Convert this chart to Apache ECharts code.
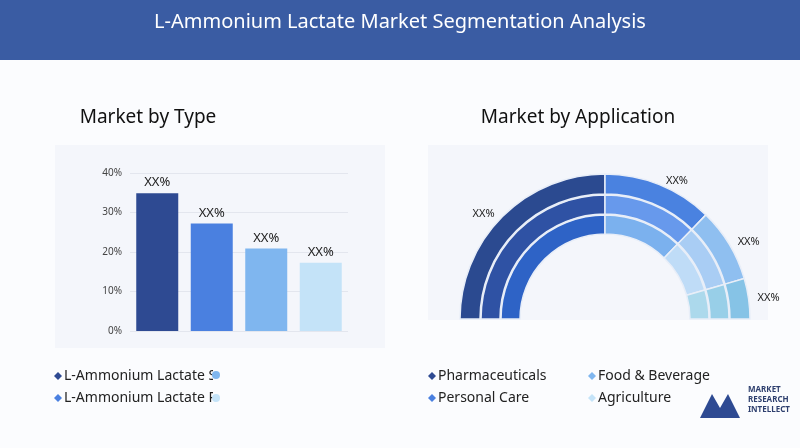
<!DOCTYPE html>
<html><head><meta charset="utf-8">
<script src="https://cdn.jsdelivr.net/npm/echarts@6/dist/echarts.min.js"></script>
<style>html,body{margin:0;padding:0;background:#fff}#c{width:800px;height:448px}</style>
</head><body><div id="c"></div>
<script>
var typeNames = ['L-Ammonium Lactate Solution', 'L-Ammonium Lactate Powder', 'Type C', 'Type D'];
var typeValues = [34.9, 27.2, 20.9, 17.3];
var typeLabels = ['XX%', 'XX%', 'XX%', 'XX%'];
var yTicks = [0, 10, 20, 30, 40];
var appNames = ['Pharmaceuticals', 'Food & Beverage', 'Personal Care', 'Agriculture'];
var appValues = [50, 24.5, 16.5, 9];
var appLabels = ['XX%', 'XX%', 'XX%', 'XX%'];

var barColors = ['#2e4a92', '#4a80e0', '#7fb6ef', '#c4e3f8'];
var ringColors = [
    ['#2b4a90', '#4a82e0', '#8fbff0', '#86c3e6'],
    ['#2f52a4', '#6799ec', '#a9cdf4', '#98cfe8'],
    ['#2e63c6', '#7bb1ee', '#bfdcf7', '#acd9ec']
];
var radii = [[125, 145], [105, 124], [85, 104]];

var chart = echarts.init(document.getElementById('c'));
var series = [{
    type: 'bar',
    barWidth: 42,
    data: typeValues.map(function(v, i){
        return {value: v, itemStyle: {color: barColors[i]}};
    }),
    label: {show: true, position: 'top', formatter: function(p){ return typeLabels[p.dataIndex]; },
        color: '#222', fontSize: 13, fontFamily: 'Noto Sans', distance: 4}
}];
radii.forEach(function(r, k){
    var d = appValues.map(function(v, i){
        return {value: v, name: appNames[i], itemStyle: {color: ringColors[k][i]}};
    });
    d.push({value: 100, name: 'blank', itemStyle: {color: 'rgba(0,0,0,0)', borderWidth: 0}, label: {show: false}, labelLine: {show: false}});
    series.push({
        type: 'pie',
        center: [605, 319],
        radius: r,
        startAngle: 180,
        clockwise: true,
        silent: true,
        itemStyle: {borderColor: '#e8eef8', borderWidth: 1.5},
        label: k === 0 ? {show: true, position: 'outside', formatter: function(p){ return appLabels[p.dataIndex]; },
            color: '#222', fontSize: 11, fontFamily: 'Noto Sans'} : {show: false},
        labelLine: {show: false, length: 4, length2: 0},
        data: d
    });
});

var legendItems = [
    {t: typeNames[0], x: 58, y: 376, c: barColors[0]},
    {t: typeNames[1], x: 58, y: 398, c: barColors[1]},
    {t: appNames[0], x: 432, y: 376, c: '#2e4a92'},
    {t: appNames[2], x: 432, y: 398, c: '#4a80e0'},
    {t: appNames[1], x: 592, y: 376, c: '#7fb6ef'},
    {t: appNames[3], x: 592, y: 398, c: '#c4e3f8'}
];
var graphic = [
    {type: 'rect', shape: {x: 0, y: 0, width: 800, height: 60}, style: {fill: '#3a5ca3'}},
    {type: 'text', x: 400, y: 22, style: {text: 'L-Ammonium Lactate Market Segmentation Analysis', fill: '#fff',
        fontSize: 20, fontFamily: 'Noto Sans', textAlign: 'center', textVerticalAlign: 'middle'}},
    {type: 'rect', z: -10, shape: {x: 55, y: 145, width: 330, height: 203}, style: {fill: '#f4f6fb'}},
    {type: 'rect', z: -10, shape: {x: 428, y: 145, width: 340, height: 175}, style: {fill: '#f4f6fb'}},
    {type: 'text', x: 148, y: 118, style: {text: 'Market by Type', fill: '#111', fontSize: 19, fontFamily: 'Noto Sans', textAlign: 'center', textVerticalAlign: 'middle'}},
    {type: 'text', x: 578, y: 118, style: {text: 'Market by Application', fill: '#111', fontSize: 19, fontFamily: 'Noto Sans', textAlign: 'center', textVerticalAlign: 'middle'}},
    {type: 'text', x: 748, y: 400, style: {text: 'MARKET\nRESEARCH\nINTELLECT', fill: '#2e3f6e', fontSize: 8, fontWeight: 'bold', fontFamily: 'Noto Sans', lineHeight: 10, textVerticalAlign: 'middle'}},
    {type: 'polygon', shape: {points: [[700, 418], [712, 394], [720, 408], [728, 394], [740, 418]]}, style: {fill: '#2e4a92'}}
];
legendItems.forEach(function(l){
    graphic.push({type: 'polygon', shape: {points: [[l.x - 4, l.y], [l.x, l.y - 4], [l.x + 4, l.y], [l.x, l.y + 4]]}, style: {fill: l.c}});
    graphic.push({type: 'text', x: l.x + 6, y: l.y, style: {text: l.t, fill: '#222', fontSize: 14, fontFamily: 'Noto Sans', textVerticalAlign: 'middle'}});
});
// overlapping mark seen in the reference over the cut-off left legend
graphic.push({type: 'rect', shape: {x: 213, y: 366, width: 80, height: 40}, style: {fill: '#fbfcfe'}});
graphic.push({type: 'circle', shape: {cx: 216, cy: 375, r: 4}, style: {fill: '#7fb6ef'}});
graphic.push({type: 'circle', shape: {cx: 216, cy: 398, r: 4}, style: {fill: '#c4e3f8'}});

chart.setOption({
    backgroundColor: '#fbfcfe',
    animation: false,
    grid: {left: 130, right: 452, top: 173, bottom: 117},
    xAxis: {type: 'category', data: typeNames, axisLine: {show: false}, axisTick: {show: false}, axisLabel: {show: false}},
    yAxis: {type: 'value', min: yTicks[0], max: yTicks[yTicks.length - 1], interval: 10,
        axisLabel: {formatter: '{value}%', color: '#444', fontSize: 10, fontFamily: 'Noto Sans'},
        splitLine: {lineStyle: {color: '#e3e6ee'}}},
    series: series,
    graphic: graphic
});
</script></body></html>
